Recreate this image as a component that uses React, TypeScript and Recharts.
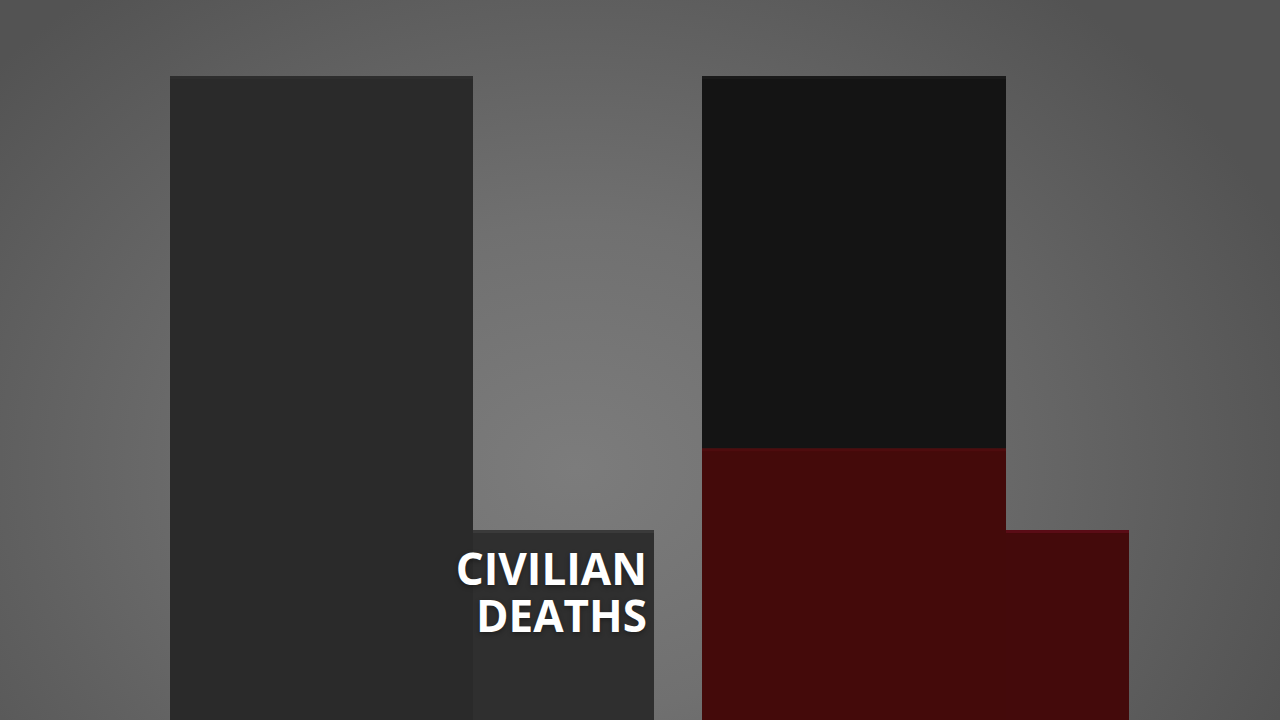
import React from "react"
import { BarChart, Bar, XAxis, YAxis, LabelList } from "recharts"

// values as share of the tallest bar
const groups = ["left", "right"]
const tallValues = [100, 100]
const redShare = [0, 42.2]
const civilianValues = [29.5, 29.5]
const civilianLabel = ["CIVILIAN", "DEATHS"]

const leftData = [{ name: groups[0], tall: tallValues[0], civilian: civilianValues[0] }]
const rightData = [
  {
    name: groups[1],
    red: redShare[1],
    black: tallValues[1] - redShare[1],
    civilian: civilianValues[1],
  },
]

// bar with a thin lighter edge along its top
const EdgedBar = (edge: string) => (props: any) => {
  const { x, y, width, height, fill } = props
  return (
    <g>
      <rect x={x} y={y} width={width} height={height} fill={fill} />
      <rect x={x} y={y} width={width} height={3} fill={edge} />
    </g>
  )
}

const CivilianLabel = (props: any) => {
  const { x, y, width } = props
  const right = x + width - 7
  const common = {
    textAnchor: "end" as const,
    fill: "#ffffff",
    fontFamily: "'Open Sans', sans-serif",
    fontWeight: 700,
    fontSize: 44,
    style: { textShadow: "0 2px 5px rgba(0,0,0,0.35)" },
  }
  return (
    <g>
      <text x={right} y={y + 55} {...common}>{civilianLabel[0]}</text>
      <text x={right} y={y + 102} {...common}>{civilianLabel[1]}</text>
    </g>
  )
}

export default function App() {
  const margin = { top: 76, right: 0, bottom: 0, left: 0 }
  return (
    <div
      style={{
        position: "absolute",
        left: 0,
        top: 0,
        width: 1280,
        height: 720,
        overflow: "hidden",
        background:
          "radial-gradient(ellipse 60% 85% at 45% 65%, #7c7c7c 0%, #707070 40%, #5f5f5f 75%, #535353 100%)",
      }}
    >
      <div style={{ position: "absolute", left: 160, top: 0 }}>
        <BarChart width={504} height={720} data={leftData} margin={margin} barGap={0} barCategoryGap={0}>
          <XAxis dataKey="name" hide />
          <YAxis hide domain={[0, 100]} />
          <Bar dataKey="tall" fill="#2a2a2a" barSize={303} isAnimationActive={false} shape={EdgedBar("#2e2e2e")} />
          <Bar dataKey="civilian" fill="#2f2f2f" barSize={181} isAnimationActive={false} shape={EdgedBar("#3a3a3a")}>
            <LabelList dataKey="civilian" content={CivilianLabel} />
          </Bar>
        </BarChart>
      </div>
      <div style={{ position: "absolute", left: 692, top: 0 }}>
        <BarChart width={447} height={720} data={rightData} margin={margin} barGap={0} barCategoryGap={0}>
          <XAxis dataKey="name" hide />
          <YAxis hide domain={[0, 100]} />
          <Bar dataKey="red" stackId="a" fill="#440a0a" barSize={304} isAnimationActive={false} shape={EdgedBar("#4e0c0e")} />
          <Bar dataKey="black" stackId="a" fill="#141414" barSize={304} isAnimationActive={false} shape={EdgedBar("#1a1a1a")} />
          <Bar dataKey="civilian" fill="#440a0b" barSize={123} isAnimationActive={false} shape={EdgedBar("#5a0c16")} />
        </BarChart>
      </div>
    </div>
  )
}
